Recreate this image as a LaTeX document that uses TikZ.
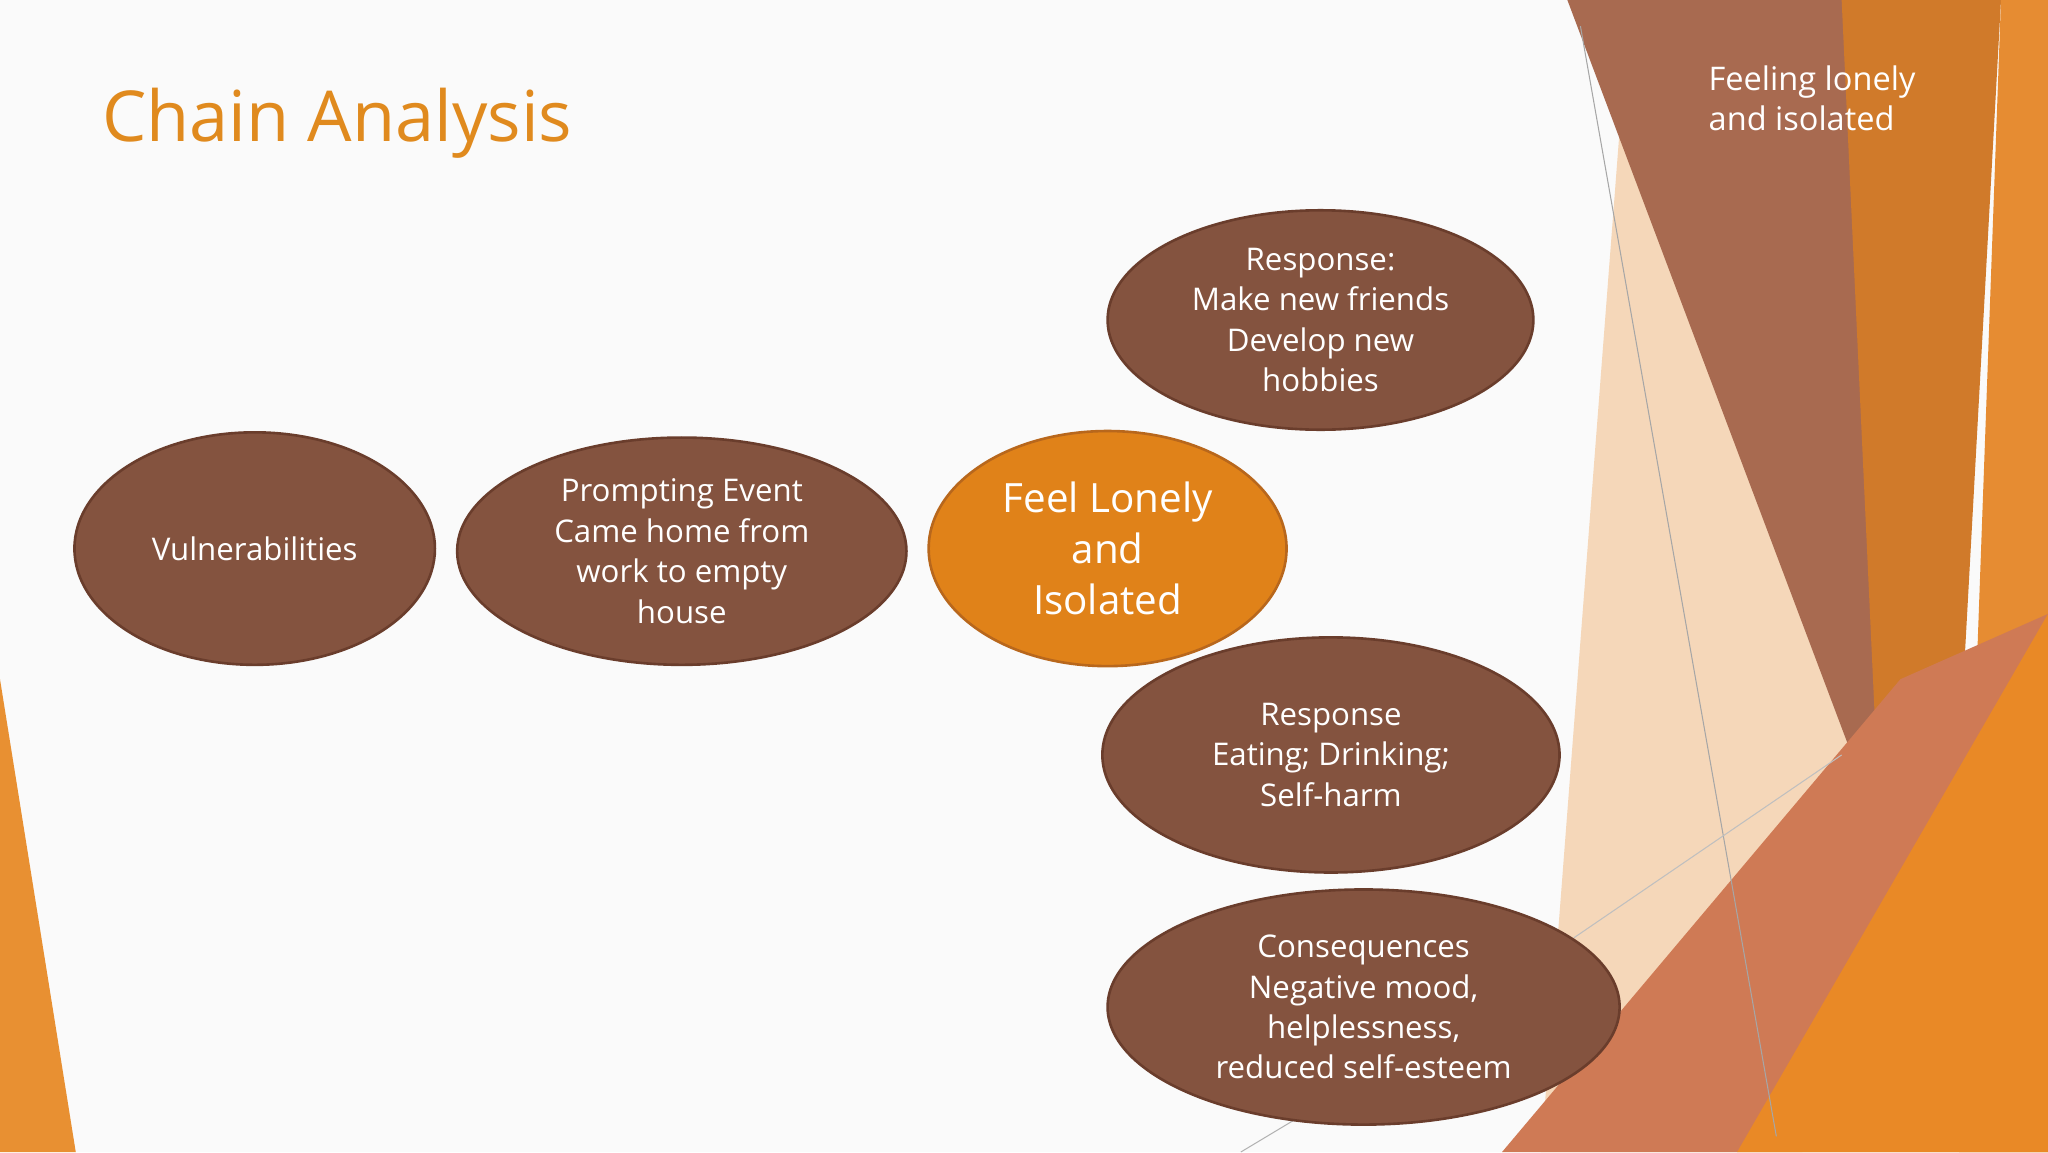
\documentclass[tikz,border=0pt]{standalone}
\usepackage{fontspec}
\usetikzlibrary{shapes.geometric}
\setmainfont{Open Sans}
\definecolor{brownE}{HTML}{84533F}
\definecolor{brownB}{HTML}{6A3D2C}
\definecolor{orgE}{HTML}{E08219}
\definecolor{orgB}{HTML}{B8671C}
\definecolor{titleC}{HTML}{E08A1E}
\begin{document}
\begin{tikzpicture}[x=1bp,y=-1bp,
  ell/.style={ellipse,inner sep=0pt,draw=brownB,line width=2bp,fill=brownE,text=white,align=center,font=\fontsize{24}{31}\selectfont},
  bg/.style={draw=none}]
\useasboundingbox (0,0) rectangle (1568,882);
\fill[white!98!black] (0,0) rectangle (1568,882);
% background shapes
\fill[bg,fill={rgb,255:red,245;green,215;blue,185}] (1240,100) -- (1440,600) -- (1380,882) -- (1180,882) -- cycle;
\fill[bg,fill={rgb,255:red,168;green,106;blue,80}] (1200,0) -- (1420,0) -- (1445,650) -- cycle;
\fill[bg,fill={rgb,255:red,208;green,122;blue,42}] (1410,0) -- (1532,0) -- (1500,580) -- (1440,650) -- cycle;
\fill[bg,fill={rgb,255:red,230;green,140;blue,50}] (1532,0) -- (1568,0) -- (1568,882) -- (1500,882) -- cycle;
\fill[bg,fill={rgb,255:red,207;green,122;blue,85}] (1150,882) -- (1455,520) -- (1568,470) -- (1568,882) -- cycle;
\fill[bg,fill={rgb,255:red,233;green,137;blue,38}] (1330,882) -- (1568,470) -- (1568,882) -- cycle;
\fill[bg,fill={rgb,255:red,232;green,144;blue,50}] (0,520) -- (58,882) -- (0,882) -- cycle;
\draw[gray!70,line width=0.8bp] (1210,20) -- (1360,870);
\draw[gray!50,line width=0.8bp] (1205,718) -- (1410,578);
\draw[gray!60,line width=0.8bp] (950,882) -- (990,858);
% title
\node[anchor=base west,text=titleC,font=\fontsize{54}{60}\selectfont,inner sep=0] (title) at (78,108) {Chain Analysis};
\node[anchor=north west,text=white,align=left,font=\fontsize{25}{31}\selectfont,inner sep=0] (side) at (1308,50) {Feeling lonely\\and isolated};
% ellipses
\node[ell,minimum width=276bp,minimum height=178bp] (v) at (195,420) {Vulnerabilities};
\node[ell,minimum width=344bp,minimum height=174bp] (p) at (522,422) {Prompting Event\\Came home from\\work to empty\\house};
\node[ell,draw=orgB,fill=orgE,minimum width=274bp,minimum height=180bp,font=\fontsize{31}{39}\selectfont] (f) at (848,420) {Feel Lonely\\and\\Isolated};
\node[ell,minimum width=326bp,minimum height=168bp] (r1) at (1011,245) {Response:\\Make new friends\\Develop new\\hobbies};
\node[ell,minimum width=350bp,minimum height=180bp] (r2) at (1019,578) {Response\\Eating; Drinking;\\Self-harm};
\node[ell,minimum width=392bp,minimum height=180bp] (c) at (1044,771) {Consequences\\Negative mood,\\helplessness,\\reduced self-esteem};
\end{tikzpicture}
\end{document}
